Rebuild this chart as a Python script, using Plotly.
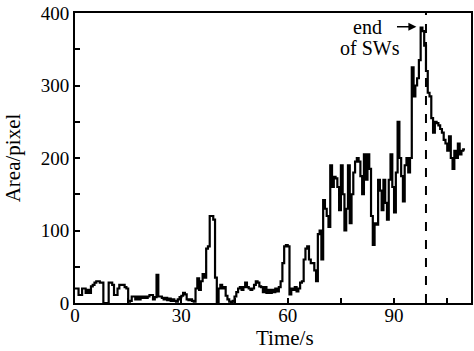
import numpy as np
import plotly.graph_objects as go

# sample interval 0.5 s, values in pixel area
dt = 0.5
area = [
    20, 20, 11, 11, 20, 20, 14, 18, 14, 23,
    25, 28, 30, 30, 28, 28, 0, 0, 0, 28,
    28, 25, 11, 11, 20, 25, 25, 25, 22, 20,
    2, 3, 9, 9, 5, 9, 5, 9, 7, 9,
    7, 9, 11, 11, 5, 8, 39, 9, 9, 7,
    5, 7, 4, 6, 3, 5, 3, 2, 5, 8,
    10, 14, 12, 5, 4, 5, 3, 2, 20, 34,
    18, 30, 40, 35, 75, 78, 120, 120, 115, 35,
    0, 20, 25, 20, 22, 10, 5, 2, 0, 3,
    9, 15, 20, 22, 18, 22, 28, 22, 20, 18,
    20, 25, 30, 28, 23, 22, 15, 22, 14, 18,
    14, 18, 15, 20, 16, 22, 30, 55, 78, 80,
    78, 12, 20, 18, 22, 16, 20, 28, 30, 60,
    75, 78, 60, 55, 55, 45, 30, 95, 100, 60,
    142, 130, 120, 105, 190, 160, 174, 172, 160, 128,
    190, 150, 100, 130, 190, 110, 150, 180, 195, 200,
    195, 175, 150, 205, 170, 205, 185, 120, 80, 110,
    108, 170, 155, 128, 170, 138, 115, 170, 205, 160,
    125, 180, 250, 200, 175, 140, 190, 200, 180, 200,
    325, 285, 300, 310, 335, 380, 375, 355, 320, 290,
    285, 255, 235, 250, 248, 245, 240, 235, 225, 220,
    210, 230, 200, 185, 210, 200, 220, 205, 210, 212, 212,
]
time = [i * dt for i in range(len(area))]

end_time = 99.0
arrow_head = (96.3, 381)
arrow_tail = (90.4, 381)
label_lines = ["end", "of SWs"]
label_pos = [(82.6, 381), (83.3, 352)]

x_ticks = [0, 30, 60, 90]
y_ticks = [0, 100, 200, 300, 400]
x_title = "Time/s"
y_title = "Area/pixel"

FONT = "Liberation Serif, Times New Roman, DejaVu Serif, serif"

fig = go.Figure()
fig.add_trace(go.Scatter(
    x=time, y=area, mode="lines", line=dict(shape="hv", color="black", width=2.2),
    showlegend=False, hoverinfo="skip"))

fig.add_shape(type="line", x0=end_time, x1=end_time, y0=0, y1=400,
              xref="x", yref="y", line=dict(color="black", width=2, dash="dash"))

fig.add_annotation(x=arrow_head[0], y=arrow_head[1], ax=arrow_tail[0], ay=arrow_tail[1],
                   xref="x", yref="y", axref="x", ayref="y", text="", showarrow=True,
                   arrowhead=2, arrowsize=1, arrowwidth=1.6, arrowcolor="black")
for txt, (lx, ly) in zip(label_lines, label_pos):
    fig.add_annotation(x=lx, y=ly, xref="x", yref="y", text=txt, showarrow=False,
                       font=dict(family=FONT, size=20, color="black"))

# x-axis title placed just below the tick labels
fig.add_annotation(x=0.53, y=-0.122, xref="paper", yref="paper", text=x_title,
                   showarrow=False, yanchor="middle",
                   font=dict(family=FONT, size=21, color="black"))

axis_common = dict(showline=True, linecolor="black", linewidth=2, mirror=True,
                   ticks="inside", ticklen=5, tickwidth=1.5, tickcolor="black",
                   showgrid=False, zeroline=False,
                   tickfont=dict(family=FONT, size=19, color="black"))

fig.update_xaxes(range=[0, 111.7], tickvals=x_ticks, ticklabelstandoff=-6,
                 minor=dict(dtick=15, tick0=0, ticks="inside", ticklen=5, tickwidth=1.5, tickcolor="black"),
                 **axis_common)
fig.update_yaxes(range=[0, 400], tickvals=y_ticks,
                 minor=dict(dtick=50, tick0=0, ticks="inside", ticklen=5, tickwidth=1.5, tickcolor="black"),
                 title=dict(text=y_title, font=dict(family=FONT, size=21, color="black"), standoff=14),
                 **axis_common)

fig.update_layout(width=474, height=351, margin=dict(l=75, r=1, t=13, b=48),
                  plot_bgcolor="white", paper_bgcolor="white",
                  font=dict(family=FONT))

fig.write_html("out.html")
